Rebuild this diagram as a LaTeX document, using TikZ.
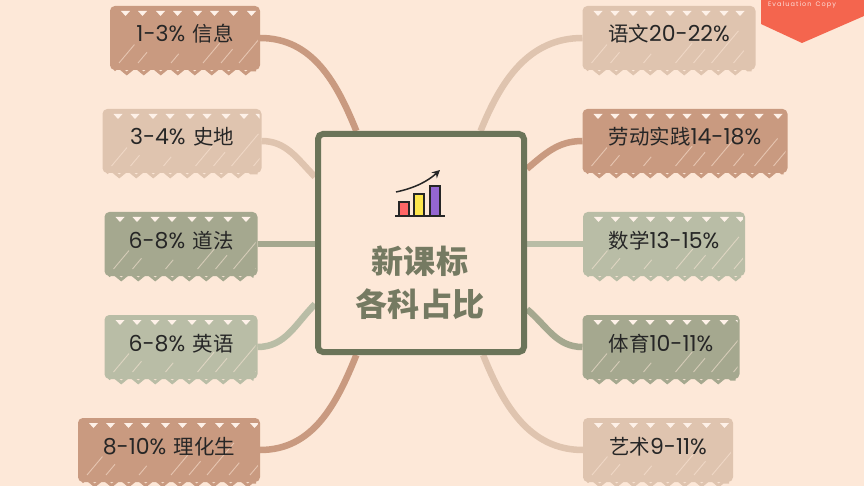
\documentclass[tikz,border=0pt]{standalone}
\usepackage{fontspec}
\setmainfont{Poppins}
\newfontfamily\cjk[Scale=0.93]{Noto Sans CJK SC}
\usetikzlibrary{decorations.pathmorphing,arrows.meta,backgrounds}
\definecolor{pagebg}{HTML}{FDE8D8}
\definecolor{terra}{HTML}{C99A80}
\definecolor{tan}{HTML}{DFC4AF}
\definecolor{olive}{HTML}{A5A88F}
\definecolor{sage}{HTML}{B9BDA6}
\definecolor{hubline}{HTML}{6B7459}
\definecolor{titletext}{HTML}{757A62}
\definecolor{ribbon}{HTML}{F4654E}
\tikzset{
    hatchbox/.style={fill=#1, draw=#1, line width=2pt, minimum height=62pt, inner sep=0pt,
        font=\fontsize{22}{24}\selectfont, text=black!85, text height=16pt, text depth=8pt,
        rounded corners=4pt,
        path picture={
            \foreach \o/\l in {8/24,27/14,60/12,92/26,110/18,128/42,150/16,171/36,190/24}
                \draw[pagebg, opacity=0.55, line width=0.9pt, sharp corners]
                    ([xshift=\o pt, yshift=6pt]path picture bounding box.south west) -- ++(50:\l pt);
            \foreach \o in {10,27,45,62,82,99,118,136,152,171,190}
                \fill[pagebg!60!white, sharp corners]
                    ([xshift=\o pt, yshift=-4pt]path picture bounding box.north west) -- ++(9pt,0) -- ++(-4.5pt,-5pt) -- cycle;
        }},
    link/.style={draw=#1, line width=6.5pt},
}
\newcommand{\lbl}[2]{#1\,\,{\cjk #2}}
\begin{document}
\begin{tikzpicture}[x=1pt,y=-1pt]
    \useasboundingbox (0,0) rectangle (864,486);
    \begin{pgfonlayer}{background}
        \fill[pagebg] (0,0) rectangle (864,486);
    \end{pgfonlayer}
    % ribbon
    \fill[ribbon] (761,0) -- (864,0) -- (864,16) -- (802,43) -- (761,24) -- cycle;
    \node[text=white!80!ribbon, font=\fontsize{6.5}{8}\selectfont, inner sep=0pt] (evalcopy) at (802,5) {E\,v\,a\,l\,u\,a\,t\,i\,o\,n\,\, C\,o\,p\,y};
    % hub
    \node[draw=hubline, line width=6pt, fill=pagebg, rounded corners=5pt, minimum width=206pt, minimum height=218pt, inner sep=0pt] (hub) at (421,243) {};
    % left boxes
    \node[hatchbox=terra, minimum width=148pt] (info) at (185,38) {\lbl{1-3\%}{信息}};
    \node[hatchbox=tan, minimum width=157pt] (hist) at (182,141) {\lbl{3-4\%}{史地}};
    \node[hatchbox=olive, minimum width=151pt] (civics) at (181,244) {\lbl{6-8\%}{道法}};
    \node[hatchbox=sage, minimum width=151pt] (engl) at (181,347) {\lbl{6-8\%}{英语}};
    \node[hatchbox=terra, minimum width=180pt] (scien) at (169,450) {\lbl{8-10\%}{理化生}};
    % right boxes
    \node[hatchbox=tan, minimum width=171pt] (chin) at (669,38) {{\cjk 语文}20-22\%};
    \node[hatchbox=terra, minimum width=203pt] (labor) at (685,141) {{\cjk 劳动实践}14-18\%};
    \node[hatchbox=sage, minimum width=160pt] (math) at (664,244) {{\cjk 数学}13-15\%};
    \node[hatchbox=olive, minimum width=155pt] (sport) at (661,347) {{\cjk 体育}10-11\%};
    \node[hatchbox=tan, minimum width=148pt] (arts) at (658,450) {{\cjk 艺术}9-11\%};
    % bottom teeth of the boxes
    \foreach \n/\c in {info/terra,hist/tan,civics/olive,engl/sage,scien/terra,chin/tan,labor/terra,math/sage,sport/olive,arts/tan}
        \draw[\c, line width=3pt, decorate, decoration={zigzag, segment length=17pt, amplitude=3.5pt}]
            ([xshift=4pt]\n.south west) -- ([xshift=-4pt]\n.south east);
    % links
    \begin{pgfonlayer}{background}
        \draw[link=terra] (info.east) to[out=0,in=112] (hub.120);
        \draw[link=tan] (hist.east) to[out=0,in=135] (hub.148);
        \draw[link=olive] (civics.east) -- (civics.east -| hub.west);
        \draw[link=sage] (engl.east) to[out=0,in=225] (hub.210);
        \draw[link=terra] (scien.east) to[out=0,in=248] (hub.240);
        \draw[link=tan] (chin.west) to[out=180,in=68] (hub.62);
        \draw[link=terra] (labor.west) to[out=180,in=40] (hub.35);
        \draw[link=sage] (math.west) -- (math.west -| hub.east);
        \draw[link=olive] (sport.west) to[out=180,in=-40] (hub.-32);
        \draw[link=tan] (arts.west) to[out=180,in=-68] (hub.-61);
    \end{pgfonlayer}
    % icon
    \draw[black!85, line width=1.2pt, fill=red!60!white] (399,216) rectangle (409,202);
    \draw[black!85, line width=1.2pt, fill=yellow!80!orange!70!white] (414,216) rectangle (424,194);
    \draw[black!85, line width=1.2pt, fill=violet!60!blue!60!white] (430,216) rectangle (440,186);
    \draw[black!85, line width=1.5pt] (395,216) -- (445,216);
    \draw[black!85, line width=1.5pt, -{Stealth[length=8pt,width=8pt]}] (396,192) .. controls (415,188) and (428,181) .. (440,170);
    % title
    \node[text=titletext, font=\fontsize{34.5}{43}\selectfont\bfseries, inner sep=0pt, align=center] (title) at (420,283) {{\cjk 新课标}\\{\cjk 各科占比}};
\end{tikzpicture}
\end{document}
